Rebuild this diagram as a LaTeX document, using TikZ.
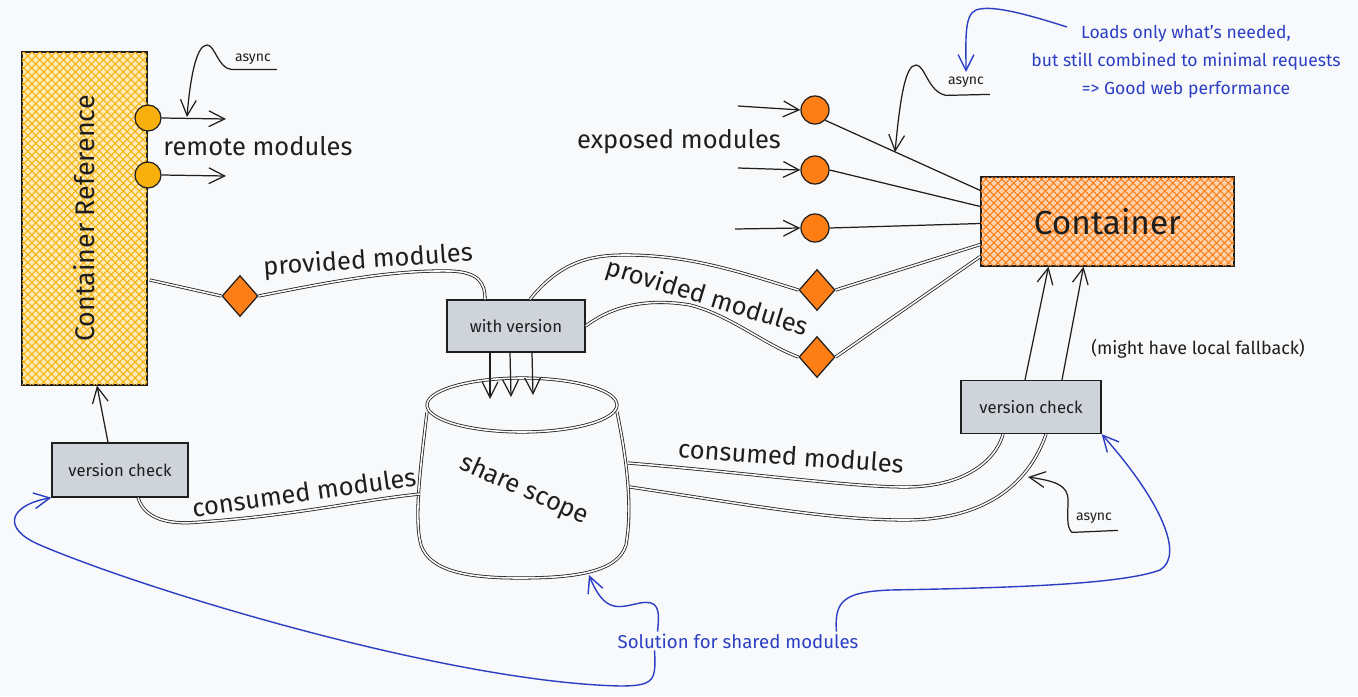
\documentclass[tikz,border=0pt]{standalone}
\usepackage{fontspec}
\setmainfont{Fira Sans}
\usetikzlibrary{arrows.meta,shapes.geometric,patterns.meta,calc}
\definecolor{bg}{HTML}{F8F9FA}
\definecolor{ink}{HTML}{1E1E1E}
\definecolor{blu}{HTML}{2C3FC4}
\definecolor{orng}{HTML}{FD7E14}
\definecolor{yel}{HTML}{F8B10C}
\definecolor{gry}{HTML}{CED4DA}
\definecolor{yelbg}{HTML}{FDEBB8}
\definecolor{orbg}{HTML}{FDD2AE}
\begin{document}
\begin{tikzpicture}[x=0.02cm,y=-0.02cm,
  box/.style={draw=ink, line width=0.8pt, inner sep=0pt},
  graybox/.style={box, fill=gry},
  lbl/.style={font=\fontsize{14.5}{16}\selectfont, text=ink, inner sep=1pt},
  sm/.style={font=\fontsize{9.5}{11}\selectfont, text=ink, inner sep=1pt},
  tinyt/.style={font=\fontsize{8}{9}\selectfont, text=ink, inner sep=1pt},
  blt/.style={font=\fontsize{10}{15.9}\selectfont, text=blu, inner sep=1pt},
  ycirc/.style={circle, draw=ink, fill=yel, minimum size=0.52cm, inner sep=0pt, line width=0.7pt},
  ocirc/.style={circle, draw=ink, fill=orng, minimum size=0.56cm, inner sep=0pt, line width=0.7pt},
  odia/.style={diamond, draw=ink, fill=orng, minimum width=0.72cm, minimum height=0.82cm, inner sep=0pt, line width=0.7pt},
  arr/.style={draw=ink, line width=0.7pt, -{Straight Barb[length=9pt,width=9pt]}},
  con/.style={draw=ink, line width=0.45pt, double=bg, double distance=0.9pt},
  ln/.style={draw=ink, line width=0.7pt},
  barr/.style={draw=blu, line width=0.8pt, -{Straight Barb[length=9pt,width=9pt]}},
  hatchA/.style={pattern={Lines[angle=45, distance=3.2pt, line width=0.6pt]}, pattern color=#1},
  hatchB/.style={pattern={Lines[angle=-45, distance=3.2pt, line width=0.6pt]}, pattern color=#1}
]
\fill[bg] (0,0) rectangle (1358,696);
\useasboundingbox (0,0) rectangle (1358,696);

% ---------- Container Reference ----------
\node[box, minimum width=2.5cm, minimum height=6.66cm, fill=yelbg,
  postaction={hatchA=yel}, postaction={hatchB=yel}] (cref) at (84.5,218.5) {};
\draw[ink, line width=0.8pt] (cref.south west) rectangle (cref.north east);
\node[font=\fontsize{15.3}{17}\selectfont, text=ink, inner sep=1pt, rotate=90] (crefT) at (cref.center) {Container Reference};

\node[ycirc] (yc1) at (148,118) {};
\node[ycirc] (yc2) at (148,175) {};
\coordinate (r1e) at (226,119);
\coordinate (r2e) at (226,176);
\draw[arr] (yc1.east) -- (r1e);
\draw[arr] (yc2.east) -- (r2e);
\node[lbl] (remote) at (258,146) {remote modules};

\node[tinyt] (async1) at (253,59) {async};
\coordinate (a1t) at (187,117);
\draw[arr] ($(async1.south east)+(4,3)$) -- ($(async1.south west)+(-2,3)$) .. controls (218,68) and (215,45) .. (207,45) .. controls (196,45) and (190,80) .. (a1t);

\node[odia] (dia1) at (240,296) {};
\draw[con] ($(cref.east)+(2,61.5)$) -- (dia1.west);

% ---------- with version ----------
\node[graybox, minimum width=2.76cm, minimum height=1.04cm] (wv) at (516,326) {};
\node[sm] (wvT) at (wv.center) {with version};
\draw[con] (dia1.east) .. controls (330,282) and (390,270) .. (450,271) .. controls (478,272) and (485,282) .. ($(wv.north)+(-31,0)$);
\node[lbl, rotate=4] (prov1) at (368,261) {provided modules};

% ---------- share scope ----------
\draw[con] (522,405) ellipse [x radius=1.9cm, y radius=0.54cm];
\draw[con] (427,412) .. controls (420,470) and (414,520) .. (421,545) .. controls (430,572) and (470,578) .. (520,578) .. controls (575,578) and (618,572) .. (626,545) .. controls (633,505) and (626,455) .. (617,412);
\node[lbl, rotate=-24] (ssT) at (524,490) {share scope};
\coordinate (ssA) at (490,399);
\coordinate (ssB) at (511,397);
\coordinate (ssC) at (533,395);
\coordinate (ssL) at (420,494);
\coordinate (ssR1) at (628,463);
\coordinate (ssR2) at (630,487);
\coordinate (ssBot) at (589,575);
\draw[arr] ($(wv.south)+(-26,0)$) -- (ssA);
\draw[arr] ($(wv.south)+(-6,0)$) -- (ssB);
\draw[arr] ($(wv.south)+(16,0)$) -- (ssC);

% ---------- version check left ----------
\node[graybox, minimum width=2.72cm, minimum height=1.08cm] (vcL) at (120,470) {};
\node[sm] (vcLT) at (vcL.center) {version check};
\draw[arr] ($(vcL.north)+(-12,0)$) -- ($(cref.south)+(12.5,0)$);
\draw[con] ($(vcL.south)+(18,0)$) .. controls (145,520) and (170,525) .. (200,522) .. controls (300,515) and (360,500) .. (ssL);
\node[lbl, rotate=8] (consL) at (304,492) {consumed modules};

% ---------- Container ----------
\node[box, minimum width=5.06cm, minimum height=1.78cm, fill=orbg,
  postaction={hatchA=orng}, postaction={hatchB=orng}] (cont) at (1107.5,221.5) {};
\draw[ink, line width=0.8pt] (cont.south west) rectangle (cont.north east);
\node[font=\fontsize{19}{21}\selectfont, text=ink] (contT) at (cont.center) {Container};

\node[ocirc] (oc1) at (815,110) {};
\node[ocirc] (oc2) at (815,170) {};
\node[ocirc] (oc3) at (815,228) {};
\coordinate (in1) at (738,106);
\coordinate (in2) at (738,168);
\coordinate (in3) at (735,229);
\draw[arr] (in1) -- (oc1.west);
\draw[arr] (in2) -- (oc2.west);
\draw[arr] (in3) -- (oc3.west);
\draw[ln] (oc1.south east) -- ($(cont.west)+(0,-31)$);
\draw[ln] (oc2.east) -- ($(cont.west)+(0,-15)$);
\draw[ln] (oc3.east) -- ($(cont.west)+(0,2)$);
\node[lbl] (expo) at (679,142) {exposed modules};

\node[odia] (od1) at (817,290) {};
\node[odia] (od2) at (817,357) {};
\draw[con] (od1.east) -- ($(cont.west)+(0,23)$);
\draw[con] (od2.east) -- ($(cont.west)+(0,35)$);
\draw[con] ($(wv.north)+(14,0)$) .. controls (560,262) and (590,255) .. (625,255) .. controls (690,255) and (740,272) .. (od1.west);
\draw[con] (wv.east) .. controls (620,300) and (660,300) .. (690,305) .. controls (730,315) and (765,345) .. (od2.west);
\node[lbl, rotate=-17] (prov2) at (707,298) {provided modules};

\node[tinyt] (async3) at (966,82) {async};
\coordinate (a3t) at (895,152);
\draw[arr] ($(async3.south east)+(4,5)$) -- ($(async3.south west)+(0,6)$) .. controls (928,92) and (925,65) .. (916,65) .. controls (905,65) and (900,100) .. (a3t);

% ---------- version check right ----------
\node[graybox, minimum width=2.8cm, minimum height=1.06cm] (vcR) at (1031,407) {};
\node[sm] (vcRT) at (vcR.center) {version check};
\draw[arr] ($(vcR.north)+(-6,0)$) -- ($(cont.south)+(-59,0)$);
\draw[arr] ($(vcR.north)+(31,0)$) -- ($(cont.south)+(-24,0)$);
\node[font=\fontsize{10.2}{12}\selectfont, text=ink, inner sep=1pt] (fallb) at (1198,349) {(might have local fallback)};

\draw[con] (ssR1) .. controls (750,473) and (850,487) .. (905,487) .. controls (965,487) and (996,460) .. ($(vcR.south)+(-28,0)$);
\draw[con] (ssR2) .. controls (750,505) and (830,520) .. (905,520) .. controls (990,520) and (1030,480) .. ($(vcR.south)+(15,0)$);
\node[lbl, rotate=-4] (consR) at (791,456) {consumed modules};

\node[tinyt] (async2) at (1094,518) {async};
\coordinate (a2t) at (1028,477);
\draw[arr] ($(async2.south east)+(4,5)$) -- ($(async2.south west)+(-2,7)$) .. controls (1066,527) and (1068,515) .. (1068,500) .. controls (1068,485) and (1055,481) .. (a2t);

% ---------- blue notes ----------
\node[blt, align=center] (note) at (1186,62) {Loads only what's needed,\\ but still combined to minimal requests\\ => Good web performance};
\coordinate (n1t) at (966,72);
\draw[barr] (1067,27) .. controls (1020,12) and (990,5) .. (976,10) .. controls (964,15) and (966,40) .. (n1t);

\node[font=\fontsize{10.6}{12}\selectfont, text=blu, inner sep=1pt] (sol) at (738,641) {Solution for shared modules};
\draw[barr] ($(sol.north west)+(42,0)$) .. controls (660,608) and (658,600) .. (640,603) .. controls (620,607) and (605,615) .. (ssBot);
\draw[barr] ($(sol.south west)+(39,0)$) .. controls (656,680) and (655,686) .. (620,686) .. controls (450,682) and (150,592) .. (40,545) .. controls (0,528) and (10,505) .. (vcL.south west);
\draw[barr] ($(sol.north east)+(-24,0)$) .. controls (834,600) and (845,592) .. (890,590) .. controls (1000,588) and (1120,585) .. (1160,570) .. controls (1185,555) and (1160,500) .. (vcR.south east);
\end{tikzpicture}
\end{document}
